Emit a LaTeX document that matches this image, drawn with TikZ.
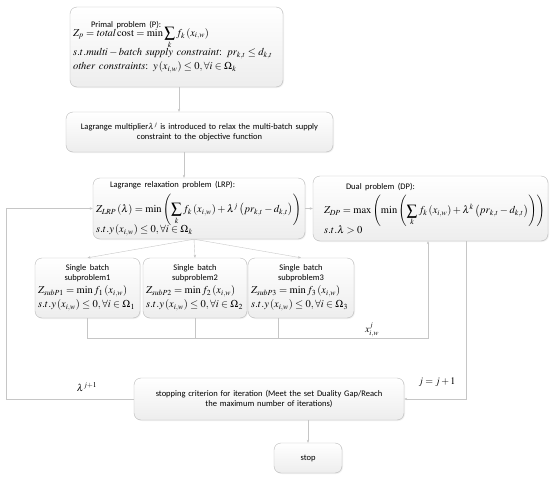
\documentclass[tikz,border=0pt]{standalone}
\usepackage{mathptmx}
\usepackage{fontspec}
\setmainfont{Carlito}
\usetikzlibrary{arrows.meta,shadows}

\newcommand{\titre}{\fontsize{8.5}{10}\selectfont}

\tikzset{boite/.style n args = {2}{draw = gray!55, rounded corners = 7pt,
                                  top color = white, bottom color = gray!14,
                                  drop shadow = {opacity = 0.12, shadow xshift = 1pt, shadow yshift = -1pt},
                                  inner xsep = 3pt, inner ysep = 1pt,
                                  text width = #1-6pt, minimum height = #2,
                                  align = left, font = \fontsize{10.5}{13}\selectfont
                                 },
         texte/.style n args = {2}{boite = {#1}{#2}, align = center, font = \titre},
         fleche/.style = {draw = gray!45, -{Stealth[length = 3pt, width = 2.5pt]}},
         trait/.style = {draw = gray!45},
         etiq/.style = {font = \fontsize{10}{12}\selectfont}
        }

\begin{document}
\begin{tikzpicture}[x = 1pt, y = -1pt]
  \useasboundingbox (0,0) rectangle (550,479);

  \node[boite = {213pt}{80pt}] (P) at (176.5,47)
    {\hspace*{18pt}{\titre Primal problem (P):}\\[-4pt]
     $\displaystyle Z_p = \mathit{total}\,\mathrm{cost} = \min\sum_k f_k\left(x_{i,w}\right)$\\[-1pt]
     $s.t.\mathit{multi}-\mathit{batch\ supply\ constraint}\colon\ pr_{k,t}\le d_{k,t}$\\[1pt]
     $\mathit{other\ constraints}\colon\ y\left(x_{i,w}\right)\le 0,\forall i\in\Omega_k$};

  \node[texte = {267pt}{40pt}] (L) at (199.5,132)
    {Lagrange multiplier$\lambda^j$ is introduced to relax the multi-batch supply\\
     constraint to the objective function};

  \node[boite = {212pt}{61pt}] (LRP) at (199,208.5)
    {\hspace*{14pt}{\titre Lagrange relaxation problem (LRP):}\\[4pt]
     $\displaystyle Z_{LRP}\left(\lambda\right) = \min\left(\sum_k f_k\left(x_{i,w}\right) + \lambda^j\left(pr_{k,t} - d_{k,t}\right)\right)$\\[-2pt]
     $s.t.y\left(x_{i,w}\right)\le 0,\forall i\in\Omega_k$};

  \node[boite = {235pt}{65pt}] (DP) at (430.5,208.5)
    {\hspace*{30pt}{\titre Dual problem (DP):}\\[4pt]
     \hspace*{8pt}$\displaystyle Z_{DP} = \max\left(\min\left(\sum_k f_k\left(x_{i,w}\right) + \lambda^k\left(pr_{k,t} - d_{k,t}\right)\right)\right)$\\[-2pt]
     \hspace*{8pt}$s.t.\lambda > 0$};

  \node[boite = {105pt}{60pt}] (S1) at (87.5,288)
    {{\centering\titre Single batch\\ subproblem1\par}
     $Z_{subP1} = \min f_1\left(x_{i,w}\right)$\\[1pt]
     $s.t.y\left(x_{i,w}\right)\le 0,\forall i\in\Omega_1$};
  \node[boite = {104pt}{60pt}] (S2) at (195,288)
    {{\centering\titre Single batch\\ subproblem2\par}
     $Z_{subP2} = \min f_2\left(x_{i,w}\right)$\\[1pt]
     $s.t.y\left(x_{i,w}\right)\le 0,\forall i\in\Omega_2$};
  \node[boite = {106pt}{60pt}] (S3) at (301,288)
    {{\centering\titre Single batch\\ subproblem3\par}
     $Z_{subP3} = \min f_3\left(x_{i,w}\right)$\\[1pt]
     $s.t.y\left(x_{i,w}\right)\le 0,\forall i\in\Omega_3$};

  \node[texte = {270pt}{42pt}] (crit) at (269,399)
    {stopping criterion for iteration (Meet the set Duality Gap/Reach\\
     the maximum number of iterations)};

  \node[texte = {68pt}{30pt}] (stop) at (308,458) {stop};

  \node[etiq] (xij) at (372,330) {$x^j_{i,w}$};
  \node[etiq] (jj)  at (437,382) {$j = j + 1$};
  \node[etiq] (lam) at (87,387)  {$\lambda^{j+1}$};

  \draw[fleche] ([xshift = 2.5pt]P.south) -- ([xshift = 2.5pt]P.south |- L.north);
  \draw[fleche] ([xshift = -15.5pt]L.south) -- ([xshift = -15.5pt]L.south |- LRP.north);
  \foreach \s in {S1,S2,S3}
    \draw[fleche] ([xshift = -5pt]LRP.south) -- (\s.north);
  \draw[fleche] (LRP.east) -- (DP.west);
  \draw[fleche] (S1.south) -- ++(0,20) -| ([xshift = -2.5pt]DP.south);
  \draw[trait] (S2.south) -- ++(0,20);
  \draw[trait] ([xshift = -23pt]S3.south) -- ++(0,20);
  \draw[fleche] ([xshift = 35.5pt]DP.south) |- (crit.east);
  \draw[fleche] (crit.west) -| ([xshift = -87pt]LRP.west) -- (LRP.west);
  \draw[fleche] ([xshift = 39pt]crit.south) -- ([xshift = 39pt]crit.south |- stop.north);
\end{tikzpicture}
\end{document}
